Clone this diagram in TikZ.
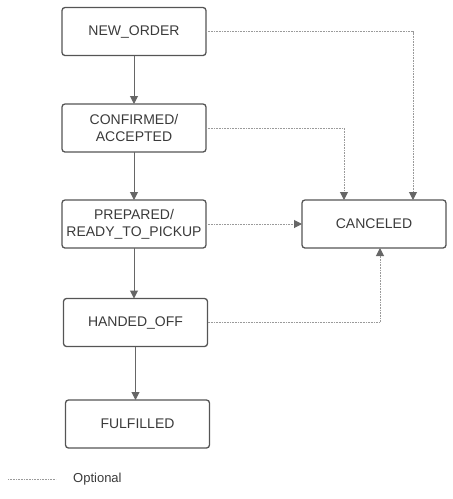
\documentclass[tikz,border=0pt]{standalone}
\usepackage{fontspec}
\setmainfont{Liberation Sans}
\usetikzlibrary{positioning}
\usetikzlibrary{arrows.meta}
\definecolor{boxgray}{HTML}{555555}
\definecolor{arrowgray}{HTML}{666666}
\definecolor{optgray}{HTML}{9A9A9A}
\definecolor{txtgray}{HTML}{3A3A3A}
\tikzset{x=1pt,y=1pt,
    stbox/.style={
        draw=boxgray,
        line width=1.3pt,
        outer sep=0pt,
        rounded corners=3pt,
        minimum width=144pt,
        minimum height=48pt,
        align=center,
        text=txtgray,
        font=\fontsize{14}{16.8}\selectfont},
    flow/.style={
        draw=arrowgray,
        line width=1pt,
        -{Triangle[width=8pt,length=8pt]}},
    opt/.style={
        draw=optgray,
        line width=1pt,
        dash pattern=on 1pt off 0.6pt},
    optarrow/.style={
        opt,
        -{Triangle[width=8pt,length=8pt,color=arrowgray]}}}

\begin{document}
\begin{tikzpicture}
    \useasboundingbox (0,0) rectangle (453,-499);
        \node[stbox] (neword) at (134,-31.5) {NEW\_ORDER};
        \node[stbox, below=48.5pt of neword] (confirm) {CONFIRMED/\\ACCEPTED};
        \node[stbox, below=48pt of confirm] (prepare) {PREPARED/\\READY\_TO\_PICKUP};
        \node[stbox, below=50.5pt of prepare, xshift=1.5pt] (handoff) {HANDED\_OFF};
        \node[stbox, below=53.5pt of handoff, xshift=2pt] (fulfill) {FULFILLED};
        \node[stbox, right=96pt of prepare] (cancel) {CANCELED};
        % main flow
        \draw[flow] (neword) -- (confirm);
        \draw[flow] (confirm) -- (prepare);
        \draw[flow] (prepare.south) -- (prepare.south |- handoff.north);
        \draw[flow] (handoff.south) -- (handoff.south |- fulfill.north);
        % optional cancel
        \draw[optarrow] (neword) -| ([xshift=39pt]cancel.north);
        \draw[optarrow] (confirm.east) -| ([xshift=-30pt]cancel.north);
        \draw[optarrow] (prepare) -- (cancel);
        \draw[optarrow] (handoff) -| ([xshift=6pt]cancel.south);
        % legend
        \coordinate (optstart) at (8,-479);
        \coordinate (optend) at (56,-479);
        \draw[opt] (optstart) -- (optend);
        \node[right=17pt of optend, inner sep=0pt, text=txtgray,
            font=\fontsize{13}{15}\selectfont] (optlabel) {Optional};
    \end{tikzpicture}
\end{document}
